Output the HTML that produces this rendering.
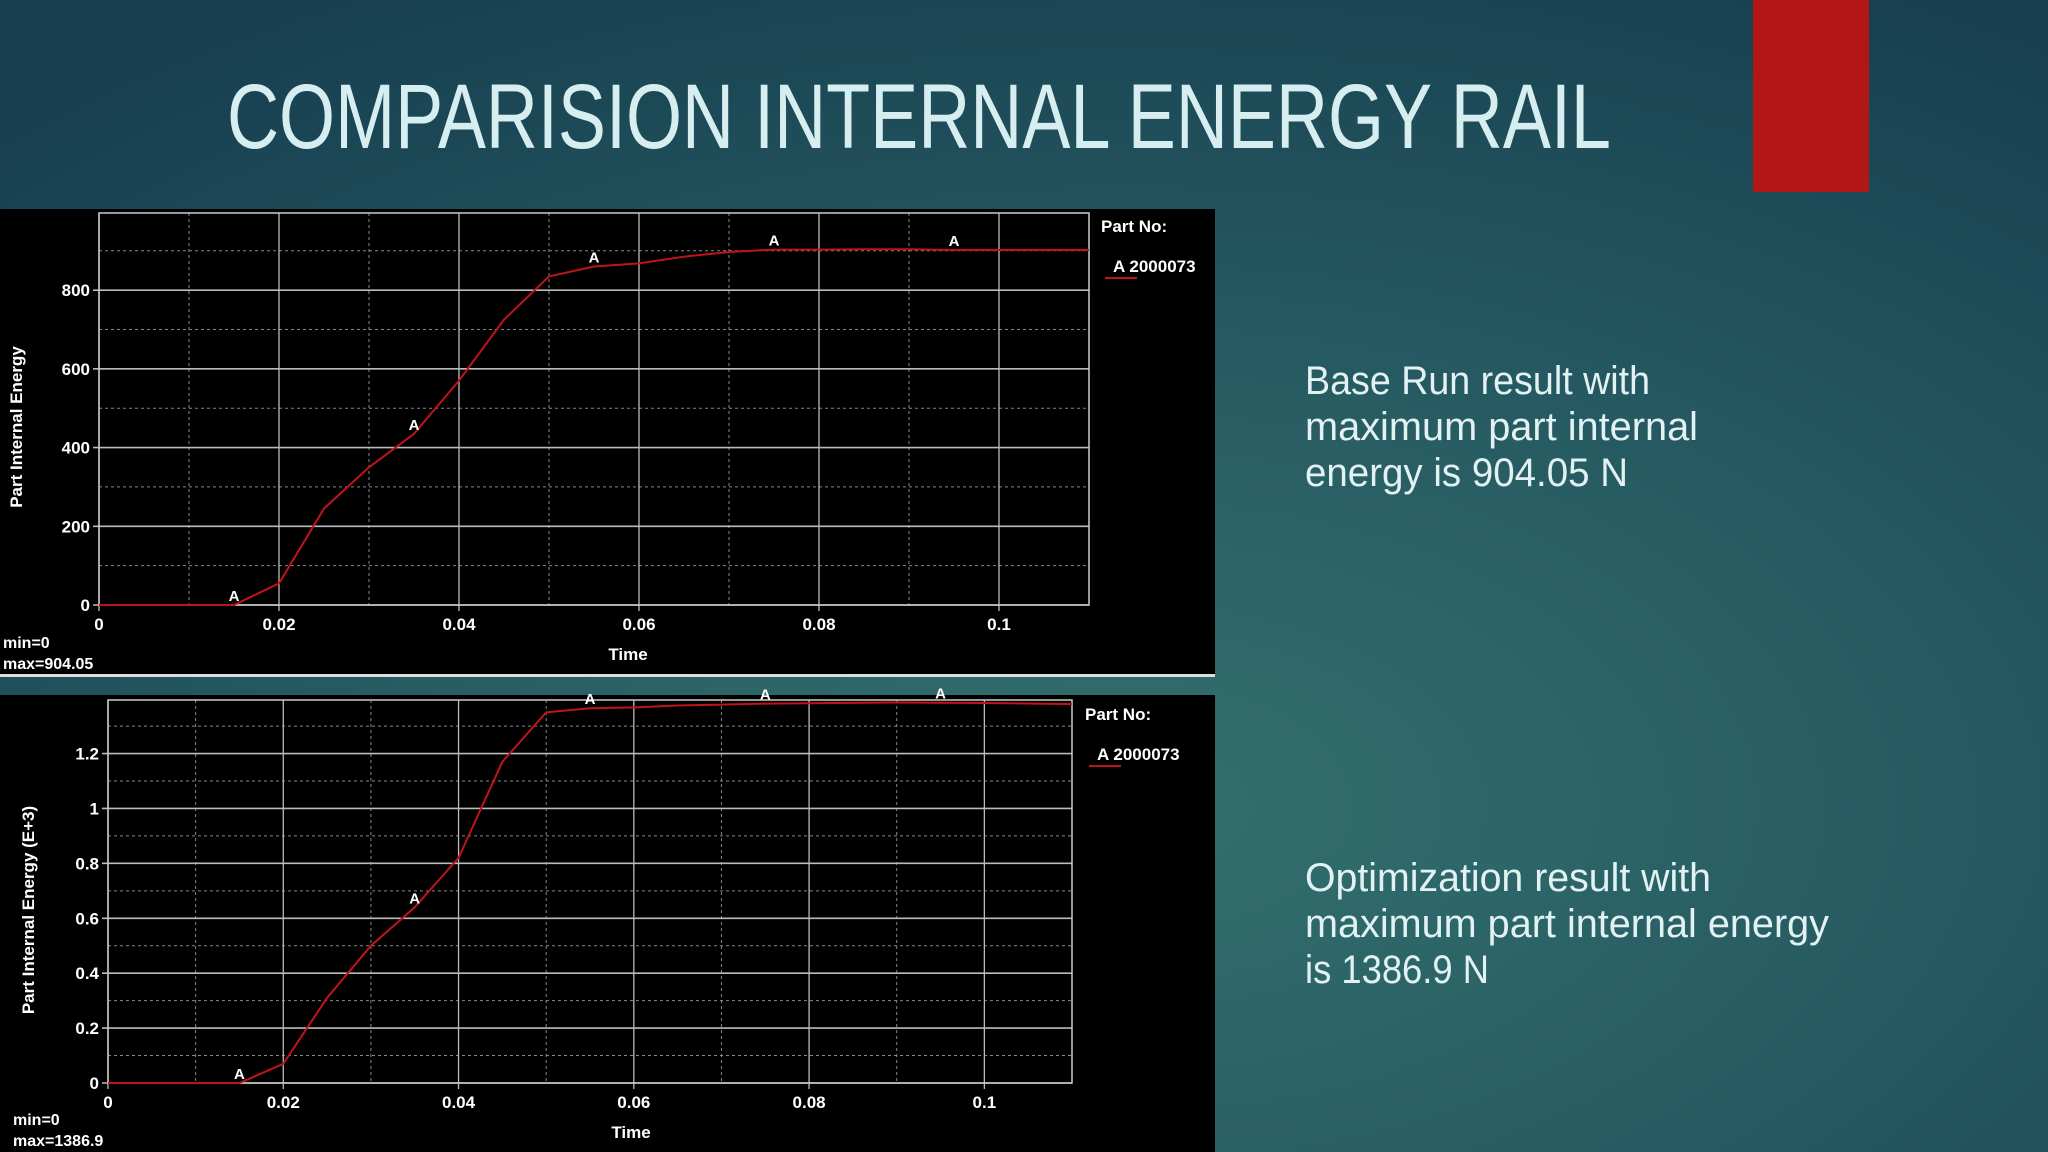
<!DOCTYPE html>
<html><head><meta charset="utf-8"><style>
html,body{margin:0;padding:0;width:2048px;height:1152px;overflow:hidden;background:#1d4652}
svg{display:block}
text{font-family:"Liberation Sans",sans-serif}
</style></head><body>
<svg id="page" width="2048" height="1152" viewBox="0 0 2048 1152">
<defs>
<radialGradient id="bg" cx="0.55" cy="0.7" r="0.8">
<stop offset="0" stop-color="#33706e"/><stop offset="0.5" stop-color="#265a62"/><stop offset="1" stop-color="#173f50"/>
</radialGradient>
</defs>
<rect width="2048" height="1152" fill="url(#bg)"/>
<rect x="1753" y="0" width="116" height="192" fill="#b31616"/>
<text x="227" y="148" font-size="92" fill="#d6eef0" textLength="1384" lengthAdjust="spacingAndGlyphs">COMPARISION INTERNAL ENERGY RAIL</text>
<g fill="#e2f2f2" font-size="40">
<text x="1305" y="394" textLength="345" lengthAdjust="spacingAndGlyphs">Base Run result with</text>
<text x="1305" y="440" textLength="393" lengthAdjust="spacingAndGlyphs">maximum part internal</text>
<text x="1305" y="486" textLength="323" lengthAdjust="spacingAndGlyphs">energy is 904.05 N</text>
</g>
<g fill="#e2f2f2" font-size="40">
<text x="1305" y="891" textLength="406" lengthAdjust="spacingAndGlyphs">Optimization result with</text>
<text x="1305" y="937" textLength="524" lengthAdjust="spacingAndGlyphs">maximum part internal energy</text>
<text x="1305" y="983" textLength="184" lengthAdjust="spacingAndGlyphs">is 1386.9 N</text>
</g>
<g id="c1"></g>
<g id="c2"></g>
</svg>
<script>
const time1 = [0,0.015,0.02,0.025,0.03,0.035,0.04,0.045,0.05,0.055,0.06,0.065,0.07,0.075,0.08,0.085,0.09,0.095,0.1,0.11];
const energy1 = [0,0,55,245,350,435,570,725,835,860,868,885,897,903,903,904,904,902,902,902];
const yTicks1 = [0,200,400,600,800];
const time2 = [0,0.015,0.02,0.025,0.03,0.035,0.04,0.045,0.05,0.055,0.06,0.065,0.07,0.075,0.08,0.09,0.095,0.1,0.11];
const energy2 = [0,0,0.07,0.31,0.50,0.64,0.82,1.17,1.35,1.365,1.368,1.375,1.378,1.382,1.383,1.386,1.385,1.384,1.38];
const yTicks2 = [0,0.2,0.4,0.6,0.8,1,1.2];
const xTicks = [0,0.02,0.04,0.06,0.08,0.1];
const markerTimes = [0.015,0.035,0.055,0.075,0.095];
const NS="http://www.w3.org/2000/svg";
function mk(p,tag,a,txt){const e=document.createElementNS(NS,tag);for(const k in a)e.setAttribute(k,a[k]);if(txt!==undefined)e.textContent=txt;p.appendChild(e);return e;}
function interp(ts,vs,t){for(let i=1;i<ts.length;i++){if(t<=ts[i]){const f=(t-ts[i-1])/(ts[i]-ts[i-1]);return vs[i-1]+f*(vs[i]-vs[i-1]);}}return vs[vs.length-1];}
function chart(g,cfg){
  const r=mk(g,'rect',{x:0,y:cfg.py0,width:1215,height:cfg.py1-cfg.py0,fill:'#000'});
  
  
  const X=t=>cfg.x0+(t-0)/(0.11)*(cfg.x1-cfg.x0);
  const Y=v=>cfg.y1-(v/cfg.ymax)*(cfg.y1-cfg.y0);
  // minor grid
  for(let t=0.01;t<0.11;t+=0.02){const l=mk(g,'line',{x1:X(t),x2:X(t),y1:cfg.y0,y2:cfg.y1,stroke:'#888','stroke-width':1,'stroke-dasharray':'3,3'});}
  for(let i=0;i<cfg.yt.length;i++){const v=cfg.yt[i]+cfg.step/2;if(v<cfg.ymax){const l=mk(g,'line',{x1:cfg.x0,x2:cfg.x1,y1:Y(v),y2:Y(v),stroke:'#888','stroke-width':1,'stroke-dasharray':'3,3'});}}
  xTicks.forEach(t=>{const l=mk(g,'line',{x1:X(t),x2:X(t),y1:cfg.y0,y2:cfg.y1+6,stroke:'#bbb','stroke-width':1.3});
    const tx=mk(g,'text',{x:X(t),y:cfg.y1+25,'font-size':17,'font-weight':'bold',fill:'#fff','text-anchor':'middle'},String(t));});
  cfg.yt.forEach(v=>{const l=mk(g,'line',{x1:cfg.x0-6,x2:cfg.x1,y1:Y(v),y2:Y(v),stroke:'#bbb','stroke-width':1.6});
    const tx=mk(g,'text',{x:cfg.x0-9,y:Y(v)+6,'font-size':17,'font-weight':'bold',fill:'#fff','text-anchor':'end'},String(v));});
  const fr=mk(g,'rect',{x:cfg.x0,y:cfg.y0,width:cfg.x1-cfg.x0,height:cfg.y1-cfg.y0,fill:'none',stroke:'#ccc','stroke-width':1.5});
  
  const pts=cfg.ts.map((t,i)=>X(t)+','+Y(cfg.vs[i])).join(' ');
  const pl=mk(g,'polyline',{points:pts,fill:'none',stroke:'#c0141a','stroke-width':2});
  
  markerTimes.forEach(t=>{const m=mk(g,'text',{x:X(t),y:Y(interp(cfg.ts,cfg.vs,t))-4,'font-size':15,'font-weight':'bold',fill:'#fff','text-anchor':'middle'},'A');});
  const at=mk(g,'text',{x:0,y:0,'font-size':17,'font-weight':'bold',fill:'#fff','text-anchor':'middle',transform:`translate(${cfg.ax},${cfg.ay}) rotate(-90)`},cfg.ytitle);
  
  const xt=mk(g,'text',{x:cfg.tx,y:cfg.ty,'font-size':17,'font-weight':'bold',fill:'#fff','text-anchor':'middle'},'Time');
  
  const mn=mk(g,'text',{x:cfg.mx,y:cfg.my,'font-size':16,'font-weight':'bold',fill:'#fff'},'min=0');
  
  const mxl=mk(g,'text',{x:cfg.mx,y:cfg.my+21,'font-size':16,'font-weight':'bold',fill:'#fff'},cfg.maxTxt);
  
  const lg=mk(g,'text',{x:cfg.lx,y:cfg.ly,'font-size':17,'font-weight':'bold',fill:'#fff'},'Part No:');
  
  const le=mk(g,'text',{x:cfg.lx+12,y:cfg.ly+40,'font-size':17,'font-weight':'bold',fill:'#fff'},'A  2000073');
  
  const ll=mk(g,'line',{x1:cfg.lx+4,x2:cfg.lx+36,y1:cfg.ly+46,y2:cfg.ly+46,stroke:'#c0141a','stroke-width':2});
  
}
chart(document.getElementById('c1'),{py0:209,py1:674,x0:99,x1:1089,y0:213,y1:605,ymax:996,yt:yTicks1,step:200,ts:time1,vs:energy1,ytitle:'Part Internal Energy',ax:22,ay:427,tx:628,ty:660,mx:3,my:648,maxTxt:'max=904.05',lx:1101,ly:232});
mk(document.getElementById('page'),'rect',{x:0,y:674,width:1215,height:3,fill:'#ddd'});
chart(document.getElementById('c2'),{py0:695,py1:1152,x0:108,x1:1072,y0:700,y1:1083,ymax:1.395,yt:yTicks2,step:0.2,ts:time2,vs:energy2,ytitle:'Part Internal Energy (E+3)',ax:34,ay:910,tx:631,ty:1138,mx:13,my:1125,maxTxt:'max=1386.9',lx:1085,ly:720});
</script>
</body></html>
